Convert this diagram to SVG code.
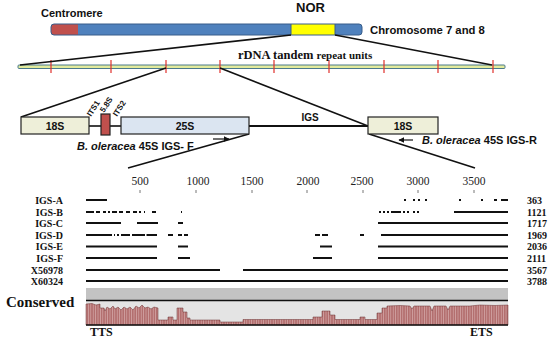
<svg xmlns="http://www.w3.org/2000/svg" width="550" height="339" viewBox="0 0 550 339">
<style>
.ab{font-family:"Liberation Sans",Arial,sans-serif;font-weight:bold;fill:#111}
.tb{font-family:"Liberation Serif","Times New Roman",serif;font-weight:bold;fill:#111}
.tr{font-family:"Liberation Serif","Times New Roman",serif;fill:#222}
.con{stroke:#111;stroke-width:1.6;fill:none}
.trk line{stroke:#111;stroke-width:2}
.tick{stroke:#e0302a;stroke-width:1.2}
.box{stroke:#222;stroke-width:1.2}
</style>
<defs>
<marker id="ah" viewBox="0 0 10 10" refX="9" refY="5" markerWidth="5" markerHeight="5" orient="auto">
<path d="M0,0 L10,5 L0,10 z" fill="#111"/>
</marker>
<pattern id="bars" patternUnits="userSpaceOnUse" width="2.4" height="40">
<rect width="2.4" height="40" fill="#b36f6f"/>
<rect x="1.8" width="0.6" height="40" fill="#dcb3b3"/>
</pattern>
</defs>
<rect width="550" height="339" fill="#fff"/>

<g id="chromosome">
<rect x="51" y="24" width="311" height="11" rx="3" fill="#4f81bd"/>
<path d="M54,24 H78 V35 H54 A3,3 0 0 1 51,32 V27 A3,3 0 0 1 54,24 z" fill="#c0504d"/>
<rect x="291" y="24" width="44" height="11" fill="#ffff00"/>
<rect x="51" y="24" width="311" height="11" rx="3" fill="none" stroke="#385d8a" stroke-width="1"/>
<line x1="291" y1="24" x2="291" y2="35" stroke="#385d8a" stroke-width="1"/>
<line x1="335" y1="24" x2="335" y2="35" stroke="#385d8a" stroke-width="1"/>
<text class="ab" x="41" y="17" font-size="11">Centromere</text>
<text class="ab" x="296" y="12" font-size="13">NOR</text>
<text class="ab" x="370" y="34" font-size="11.3">Chromosome 7 and 8</text>
</g>

<g id="rdna">
<rect x="18" y="65" width="487" height="3.5" rx="1" fill="#e2eb9c" stroke="#4a7a8c" stroke-width="1"/>
<line class="tick" x1="51" y1="60" x2="51" y2="73"/>
<line class="tick" x1="111" y1="60" x2="111" y2="73"/>
<line class="tick" x1="166" y1="60" x2="166" y2="73"/>
<line class="tick" x1="220" y1="60" x2="220" y2="73"/>
<line class="tick" x1="274" y1="60" x2="274" y2="73"/>
<line class="tick" x1="329" y1="60" x2="329" y2="73"/>
<line class="tick" x1="384" y1="60" x2="384" y2="73"/>
<line class="tick" x1="438" y1="60" x2="438" y2="73"/>
<line class="tick" x1="493" y1="60" x2="493" y2="73"/>
<text class="tb" x="238" y="59"><tspan font-size="12.5">rDNA tandem </tspan><tspan font-size="11">repeat units</tspan></text>
</g>

<g id="connectors">
<line class="con" x1="291" y1="35" x2="20" y2="65"/>
<line class="con" x1="335" y1="35" x2="492" y2="65"/>
<line class="con" x1="166" y1="68" x2="21" y2="117"/>
<line class="con" x1="220" y1="68" x2="368" y2="126"/>
<line class="con" x1="249" y1="134" x2="128" y2="168"/>
<line class="con" x1="369" y1="134" x2="475" y2="168"/>
</g>

<g id="unit">
<line x1="89" y1="126" x2="121" y2="126" stroke="#111" stroke-width="1.6"/>
<line x1="249" y1="126" x2="368" y2="126" stroke="#111" stroke-width="2"/>
<g id="n18S-left"><rect class="box" x="21" y="117" width="68" height="17" fill="#eeefd9"/><text class="ab" x="55" y="129.5" font-size="10.5" text-anchor="middle">18S</text></g>
<g id="n58S"><rect class="box" x="101" y="114" width="9" height="21" fill="#c0504d"/></g>
<g id="n25S"><rect class="box" x="121" y="117" width="128" height="17" fill="#dbe5f1"/><text class="ab" x="185" y="129.5" font-size="10.5" text-anchor="middle">25S</text></g>
<g id="n18S-right"><rect class="box" x="368" y="117" width="70" height="17" fill="#eeefd9"/><text class="ab" x="403" y="129.5" font-size="10.5" text-anchor="middle">18S</text></g>
<text class="ab" font-size="8" transform="translate(91,117) rotate(-57)">ITS1</text>
<text class="ab" font-size="8" transform="translate(104,113) rotate(-57)">5.8S</text>
<text class="ab" font-size="8" transform="translate(117,117) rotate(-57)">ITS2</text>
<text class="ab" x="310" y="121" font-size="10" text-anchor="middle">IGS</text>
</g>

<g id="primers">
<line x1="213" y1="139" x2="229" y2="139" stroke="#111" stroke-width="1.2" marker-end="url(#ah)"/>
<text class="ab" x="77" y="150" font-size="11"><tspan font-style="italic">B. oleracea</tspan> 45S IGS- F</text>
<line x1="413" y1="140" x2="399" y2="140" stroke="#111" stroke-width="1.2" marker-end="url(#ah)"/>
<text class="ab" x="422" y="144" font-size="11"><tspan font-style="italic">B. oleracea</tspan> 45S IGS-R</text>
</g>

<g id="axis">
<g class="tr" font-size="11.5" text-anchor="middle">
<text x="140" y="185">500</text><text x="198" y="185">1000</text><text x="252" y="185">1500</text><text x="308" y="185">2000</text><text x="362" y="185">2500</text><text x="418" y="185">3000</text><text x="474" y="185">3500</text>
</g>
<g stroke="#777" stroke-width="1">
<line x1="140" y1="190" x2="140" y2="193"/><line x1="196" y1="190" x2="196" y2="193"/><line x1="252" y1="190" x2="252" y2="193"/><line x1="307" y1="190" x2="307" y2="193"/><line x1="363" y1="190" x2="363" y2="193"/><line x1="418" y1="190" x2="418" y2="193"/><line x1="474" y1="190" x2="474" y2="193"/>
</g>
</g>

<g id="labels" class="tb" font-size="10">
<g text-anchor="end">
<text x="63" y="203.5">IGS-A</text><text x="63" y="215.5">IGS-B</text><text x="63" y="226.5">IGS-C</text><text x="63" y="238.5">IGS-D</text><text x="63" y="250">IGS-E</text><text x="63" y="261.5">IGS-F</text><text x="63" y="273.5">X56978</text><text x="63" y="284.5">X60324</text>
</g>
<text x="527" y="203.5">363</text><text x="527" y="215.5">1121</text><text x="527" y="226.5">1717</text><text x="527" y="238.5">1969</text><text x="527" y="250">2036</text><text x="527" y="261.5">2111</text><text x="527" y="273.5">3567</text><text x="527" y="284.5">3788</text>
</g>

<g id="tracks" class="trk">
<g id="IGS-A">
<line x1="86" y1="200" x2="107" y2="200"/><line x1="404" y1="200" x2="406" y2="200"/><line x1="413" y1="200" x2="415" y2="200"/><line x1="418" y1="200" x2="420" y2="200"/><line x1="425" y1="200" x2="427" y2="200"/><line x1="459" y1="200" x2="461" y2="200"/><line x1="481" y1="200" x2="483" y2="200"/><line x1="494" y1="200" x2="497" y2="200"/><line x1="501" y1="200" x2="508" y2="200"/>
</g>
<g id="IGS-B">
<line x1="86" y1="212" x2="94" y2="212"/><line x1="96" y1="212" x2="100" y2="212"/><line x1="103" y1="212" x2="106" y2="212"/><line x1="108" y1="212" x2="110" y2="212"/><line x1="112" y1="212" x2="117" y2="212"/><line x1="119" y1="212" x2="123" y2="212"/><line x1="126" y1="212" x2="130" y2="212"/><line x1="133" y1="212" x2="137" y2="212"/><line x1="139" y1="212" x2="141" y2="212"/><line x1="144" y1="212" x2="145" y2="212"/><line x1="152" y1="212" x2="156" y2="212"/><line x1="181" y1="212" x2="182" y2="212"/>
<line x1="379" y1="212" x2="381" y2="212"/><line x1="383" y1="212" x2="385" y2="212"/><line x1="387" y1="212" x2="389" y2="212"/><line x1="391" y1="212" x2="401" y2="212"/><line x1="403" y1="212" x2="405" y2="212"/><line x1="407" y1="212" x2="409" y2="212"/><line x1="413" y1="212" x2="415" y2="212"/><line x1="417" y1="212" x2="419" y2="212"/><line x1="454" y1="212" x2="508" y2="212"/>
</g>
<g id="IGS-C">
<line x1="86" y1="223" x2="121" y2="223"/><line x1="137" y1="223" x2="158" y2="223"/><line x1="178" y1="223" x2="183" y2="223"/><line x1="378" y1="223" x2="508" y2="223"/>
</g>
<g id="IGS-D">
<line x1="86" y1="235" x2="112" y2="235"/><line x1="114" y1="235" x2="115" y2="235"/><line x1="117" y1="235" x2="119" y2="235"/><line x1="121" y1="235" x2="130" y2="235"/><line x1="132" y1="235" x2="145" y2="235"/><line x1="146.5" y1="235" x2="157" y2="235"/><line x1="168" y1="235" x2="173" y2="235"/><line x1="178" y1="235" x2="182" y2="235"/><line x1="184" y1="235" x2="188" y2="235"/><line x1="315" y1="235" x2="320" y2="235"/><line x1="322" y1="235" x2="328" y2="235"/><line x1="360" y1="235" x2="364" y2="235"/><line x1="381" y1="235" x2="508" y2="235"/>
</g>
<g id="IGS-E">
<line x1="86" y1="246.5" x2="157" y2="246.5"/><line x1="178" y1="246.5" x2="188" y2="246.5"/><line x1="320" y1="246.5" x2="332" y2="246.5"/><line x1="378" y1="246.5" x2="508" y2="246.5"/>
</g>
<g id="IGS-F">
<line x1="86" y1="258" x2="157" y2="258"/><line x1="178" y1="258" x2="190" y2="258"/><line x1="313" y1="258" x2="332" y2="258"/><line x1="378" y1="258" x2="508" y2="258"/>
</g>
<g id="X56978"><line x1="86" y1="270" x2="220" y2="270"/><line x1="243" y1="270" x2="508" y2="270"/></g>
<g id="X60324"><line x1="86" y1="281" x2="508" y2="281"/></g>
</g>

<g id="conserved">
<rect x="86" y="288" width="422" height="12" fill="#c3c3c3"/>
<rect x="86" y="301" width="422" height="24" fill="#e4e4e4"/>
<polygon fill="url(#bars)" stroke="#6b3030" stroke-width="0.5" points="86,325 86,304 92,303.5 96,305 100,304 100,308 104,308 105,311 107,307 110,309 113,306 115,309 118,307 121,310 124,307 127,309 130,307 133,310 136,306 139,308 142,305 145,308 148,307 151,309 154,307 158,308 158,320 168,320 168,317 173,317 173,320 177,320 177,308 183,308 183,312 187,312 187,318 190,318 190,320 220,320 220,322 243,322 243,319.5 313,319.5 313,317 322,317 322,311 330,311 330,315 335,315 335,319.5 360,319.5 360,317 365,317 365,319.5 377,319.5 377,313 382,313 382,308 387,308 387,306 400,305.5 410,306 412,309 414,306 430,306 432,311 434,306 446,306 448,310 450,306 470,306 480,305 495,305.5 508,305 508,325"/>
<line x1="86" y1="300.5" x2="508" y2="300.5" stroke="#111" stroke-width="1.5"/>
<line x1="86" y1="325" x2="508" y2="325" stroke="#111" stroke-width="1.5"/>
<text class="tb" x="6" y="307" font-size="15">Conserved</text>
<text class="tb" x="90" y="336" font-size="12">TTS</text>
<text class="tb" x="470" y="336" font-size="12">ETS</text>
</g>
</svg>
